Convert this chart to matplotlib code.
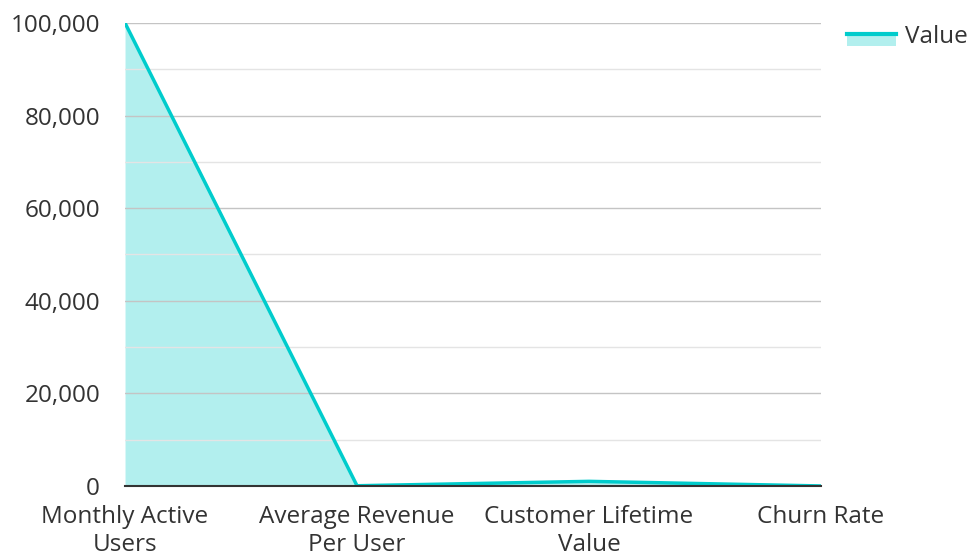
import numpy as np
import matplotlib.pyplot as plt
from matplotlib.patches import Rectangle
from matplotlib.lines import Line2D
from matplotlib.legend_handler import HandlerBase
from matplotlib.ticker import FuncFormatter, MultipleLocator

plt.rcParams['font.family'] = ['Open Sans', 'DejaVu Sans']

# Data
categories = ["Monthly Active\nUsers", "Average Revenue\nPer User",
              "Customer Lifetime\nValue", "Churn Rate"]
values = [100000, 50, 1000, 5]

LINE = '#00cccc'
FILL = '#b2efee'
TEXT = '#333333'
FS = 17.5


class AreaHandler(HandlerBase):
    # legend swatch: line on top of a filled block
    def create_artists(self, legend, orig, xd, yd, width, height, fontsize, trans):
        top = -yd + height * 0.55
        bot = -yd - height * 0.2
        rect = Rectangle((-xd, bot), width, top - bot, facecolor=FILL,
                         edgecolor='none', transform=trans)
        line = Line2D([-xd, -xd + width], [top, top], color=LINE, lw=3,
                      transform=trans)
        return [rect, line]


fig = plt.figure(figsize=(9.7, 5.57), dpi=100)
ax = fig.add_axes([0.1289, 0.1275, 0.7175, 0.8312])

x = np.arange(len(categories))
ax.fill_between(x, values, 0, color=FILL, lw=0, zorder=1)
ax.plot(x, values, color=LINE, lw=2.5, zorder=3)

ax.set_xlim(0, len(categories) - 1)
ax.set_ylim(0, 100000)
ax.yaxis.set_major_locator(MultipleLocator(20000))
ax.yaxis.set_minor_locator(MultipleLocator(10000))
ax.yaxis.set_major_formatter(FuncFormatter(lambda v, p: f"{int(v):,}"))
ax.grid(axis='y', which='major', color='#c4c4c4', lw=1, zorder=2)
ax.grid(axis='y', which='minor', color='#e4e4e4', lw=1, zorder=2)
ax.set_axisbelow(False)

ax.set_xticks(x)
ax.set_xticklabels(categories, fontsize=FS, color=TEXT, linespacing=1.22)
ax.tick_params(axis='y', labelsize=FS, labelcolor=TEXT, length=0, pad=18)
ax.tick_params(axis='y', which='minor', length=0)
ax.tick_params(axis='x', length=0, pad=14)

for s in ['left', 'right', 'top']:
    ax.spines[s].set_visible(False)
ax.spines['bottom'].set_color(TEXT)
ax.spines['bottom'].set_linewidth(1.5)
ax.spines['bottom'].set_zorder(4)

leg = fig.legend([object()], ['Value'], loc='upper left',
                 bbox_to_anchor=(847 / 970, 1 - 25 / 557),
                 frameon=False, fontsize=FS, handlelength=2.0, handletextpad=0.4,
                 borderpad=0, borderaxespad=0,
                 handler_map={object: AreaHandler()})
for t in leg.get_texts():
    t.set_color(TEXT)

fig.savefig('out.png', dpi=100)
